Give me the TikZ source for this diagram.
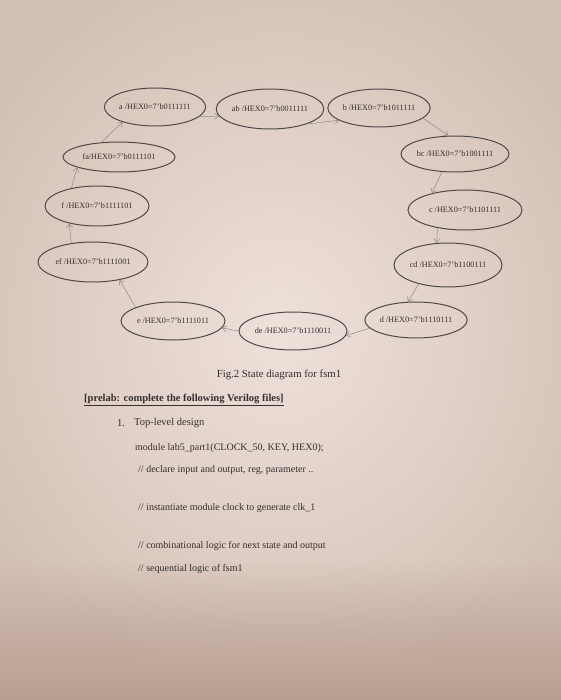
\documentclass[tikz,border=0pt]{standalone}
\usepackage{fontspec}
\setmainfont{Liberation Serif}
\usetikzlibrary{shapes.geometric,arrows.meta,fadings}
\definecolor{ink}{HTML}{352F2F}
\definecolor{stroke}{HTML}{4E4A4A}
\definecolor{arrowc}{HTML}{8E8A8A}
\definecolor{paperin}{HTML}{EEE1DA}
\definecolor{paperout}{HTML}{D4C1B6}
\definecolor{paperbot}{HTML}{B89E90}
\begin{document}
\begin{tikzpicture}[x=1pt,y=-1pt,
  state/.style={ellipse,draw=stroke,line width=1pt,inner sep=0pt,
    font=\fontsize{8.2}{9}\selectfont,text=ink},
  conn/.style={draw=arrowc,line width=0.5pt,-{Straight Barb[length=4pt,width=6pt]}},
  body/.style={anchor=west,font=\fontsize{10}{12}\selectfont,text=ink,inner sep=0pt}]
\useasboundingbox (0,0) rectangle (561,700);
% paper background
\shade[inner color=paperin,outer color=paperout] (-60,-40) rectangle (621,700);
\fill[paperbot,path fading=north] (0,560) rectangle (561,700);
% states
\node[state,minimum width=100pt,minimum height=38pt] (a)  at (155,107) {a /HEX0=7'b0111111};
\node[state,minimum width=100pt,minimum height=40pt] (ab) at (270,109) {ab /HEX0=7'b0011111};
\node[state,minimum width=102pt,minimum height=38pt] (b)  at (379,108) {b /HEX0=7'b1011111};
\node[state,minimum width=112pt,minimum height=30pt] (fa) at (119,157) {fa/HEX0=7'b0111101};
\node[state,minimum width=96pt,minimum height=36pt]  (bc) at (455,154) {bc /HEX0=7'b1001111};
\node[state,minimum width=104pt,minimum height=40pt] (f)  at (97,206)  {f /HEX0=7'b1111101};
\node[state,minimum width=114pt,minimum height=40pt] (c)  at (465,210) {c /HEX0=7'b1101111};
\node[state,minimum width=110pt,minimum height=40pt] (ef) at (93,262)  {ef /HEX0=7'b1111001};
\node[state,minimum width=100pt,minimum height=44pt] (cd) at (448,265) {cd /HEX0=7'b1100111};
\node[state,minimum width=104pt,minimum height=38pt] (e)  at (173,321) {e /HEX0=7'b1111011};
\node[state,minimum width=106pt,minimum height=38pt] (de) at (293,331) {de /HEX0=7'b1110011};
\node[state,minimum width=98pt,minimum height=36pt]  (d)  at (416,320) {d /HEX0=7'b1110111};
% transitions
\draw[conn] (fa.140) -- (a.205);
\draw[conn] (a.-12) -- (ab.188);
\draw[conn] (ab.-22) -- (b.197);
\draw[conn] (b.-13) -- (bc.110);
\draw[conn] (bc.234) -- (c.153);
\draw[conn] (c.213) -- (cd.117);
\draw[conn] (cd.213) -- (d.114);
\draw[conn] (d.190) -- (de.-5);
\draw[conn] (de.180) -- (e.-8);
\draw[conn] (e.160) -- (ef.-34);
\draw[conn] (ef.139) -- (f.212);
\draw[conn] (f.145) -- (fa.194);
% text
\node[body,anchor=center,font=\fontsize{10.8}{13}\selectfont] (cap) at (279,375) {Fig.2 State diagram for fsm1};
\node[body,font=\bfseries\fontsize{10.5}{13}\selectfont] (pre) at (84,400) {\underline{[prelab: complete the following Verilog files]}};
\node[body,font=\fontsize{10.5}{12}\selectfont] (n1) at (117,423) {1.};
\node[body,font=\fontsize{10.5}{12}\selectfont] (t1) at (134,423) {Top-level design};
\node[body] (l1) at (135,448) {module lab5\_part1(CLOCK\_50, KEY, HEX0);};
\node[body] (l2) at (138,470) {// declare input and output, reg, parameter ..};
\node[body] (l3) at (138,508) {// instantiate module clock to generate clk\_1};
\node[body] (l4) at (138,546) {// combinational logic for next state and output};
\node[body] (l5) at (138,569) {// sequential logic of fsm1};
\end{tikzpicture}
\end{document}
